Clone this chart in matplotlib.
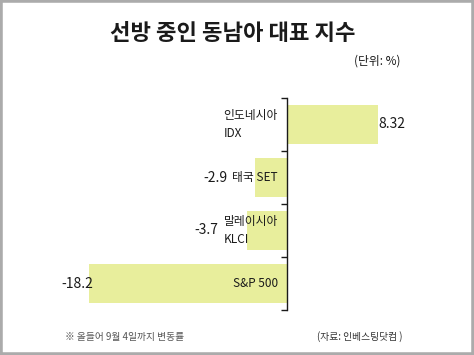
import matplotlib
matplotlib.use("Agg")
import matplotlib.pyplot as plt
from matplotlib.patches import Rectangle

plt.rcParams['font.family'] = ['Noto Sans CJK KR', 'DejaVu Sans']

# data
categories = ["인도네시아\nIDX", "태국 SET", "말레이시아\nKLCI", "S&P 500"]
values = [8.32, -2.9, -3.7, -18.2]
value_labels = ["8.32", "-2.9", "-3.7", "-18.2"]

title = "선방 중인 동남아 대표 지수"
unit_note = "(단위: %)"
foot_note = "※ 올들어 9월 4일까지 변동률"
source_note = "(자료: 인베스팅닷컴 )"

bar_color = "#e8ee9c"
text_color = "#1a1a1a"

W, H = 474, 355
fig = plt.figure(figsize=(W / 100, H / 100), dpi=100)
fig.patch.set_facecolor("white")
fig.patches.append(Rectangle((0, 0), 1, 1, transform=fig.transFigure,
                             fill=False, edgecolor="#ababab", linewidth=4))

# axes placed in pixel terms: zero line at x=287, categories from y=98 to y=310
ax_left, ax_right = 40, 440
ax_top, ax_bottom = 98, 310
ax = fig.add_axes([ax_left / W, (H - ax_bottom) / H,
                   (ax_right - ax_left) / W, (ax_bottom - ax_top) / H])
px_per_unit = 10.88
zero_px = 287
ax.set_xlim(-(zero_px - ax_left) / px_per_unit, (ax_right - zero_px) / px_per_unit)
ax.set_ylim(len(categories) - 0.5, -0.5)

pos = list(range(len(categories)))
ax.barh(pos, values, height=0.72, color=bar_color, zorder=1)

for s in ["top", "right", "bottom"]:
    ax.spines[s].set_visible(False)
ax.spines["left"].set_position(("data", 0))
ax.spines["left"].set_color(text_color)
ax.spines["left"].set_linewidth(1.0)
ax.set_xticks([])
ax.set_yticks([p - 0.5 for p in pos] + [len(pos) - 0.5])
ax.set_yticklabels([])
ax.tick_params(axis="y", direction="out", length=4, width=1, color=text_color)

fig.canvas.draw()
renderer = fig.canvas.get_renderer()
inv = ax.transData.inverted()
label_gap = -9 / px_per_unit

for p, cat, v, vl in zip(pos, categories, values, value_labels):
    t = ax.text(label_gap, p, cat, ha="right", va="center", multialignment="left",
                fontsize=8.5, color=text_color, linespacing=1.45, zorder=3)
    if v >= 0:
        ax.text(v + 0.1, p, vl, ha="left", va="center", fontsize=10,
                color=text_color)
    else:
        bb = t.get_window_extent(renderer)
        left_data = inv.transform((bb.x0, bb.y0))[0]
        x = min(v + 0.35, left_data - 0.45)
        ax.text(x, p, vl, ha="right", va="center", fontsize=10,
                color=text_color)

fig.text(233 / W, 1 - 34 / H, title, ha="center", va="center", fontsize=16,
         fontweight="bold", color=text_color)
fig.text(400 / W, 1 - 61 / H, unit_note, ha="right", va="center",
         fontsize=8.5, color=text_color)
fig.text(65 / W, 1 - 337 / H, foot_note, ha="left", va="center",
         fontsize=7, color="#555555")
fig.text(317 / W, 1 - 337 / H, source_note, ha="left", va="center",
         fontsize=7, color="#333333")

fig.savefig("out.png", dpi=100, facecolor="white")
